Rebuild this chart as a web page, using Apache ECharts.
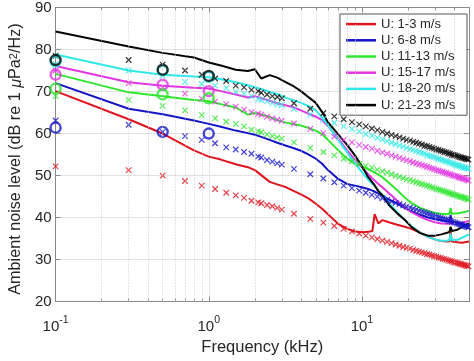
<!DOCTYPE html>
<html><head><meta charset="utf-8">
<script src="https://cdn.jsdelivr.net/npm/echarts@6/dist/echarts.min.js"></script>
<style>html,body{margin:0;padding:0;background:#fff}#c{width:474px;height:361px}</style>
</head><body><div id="c"></div>
<script>
const seriesNames = ['U: 1-3 m/s', 'U: 6-8 m/s', 'U: 11-13 m/s', 'U: 15-17 m/s', 'U: 18-20 m/s', 'U: 21-23 m/s'];
const colors = ['#e0141e', '#1515c8', '#2ee62e', '#e236e2', '#2fe8e8', '#050505'];

// measured spectra (solid lines)
const lineFreqs = [0.1, 0.3, 0.5, 0.8, 1, 1.2, 1.5, 1.8, 2, 2.2, 2.5, 2.8, 3.2, 3.6, 4, 4.5, 5, 5.5, 6, 7, 8, 9, 10, 11, 11.7, 12.1, 12.8, 13.6, 15, 17, 19, 21, 24, 27, 30, 33, 36, 37.3, 37.9, 38.6, 42, 45, 50];
const lineRed = [70.1, 63.4, 60.0, 56.0, 54.5, 53.8, 52.7, 52.0, 51.3, 50.1, 48.5, 47.9, 47.2, 46.3, 45.5, 44.5, 43.3, 42.1, 40.8, 38.5, 37.3, 36.7, 36.5, 36.6, 36.8, 40.8, 38.6, 39.4, 38.9, 38.3, 37.8, 37.3, 36.4, 35.4, 34.8, 34.4, 34.3, 34.3, 36.8, 34.3, 34.1, 34.0, 34.3];
const lineBlue = [72.0, 65.9, 64.6, 63.1, 62.3, 61.6, 60.7, 60.1, 59.7, 59.2, 58.5, 57.8, 57.1, 56.5, 55.9, 55.0, 54.0, 52.8, 51.3, 49.2, 48.0, 47.6, 47.2, 46.8, 46.4, 46.2, 45.7, 45.2, 44.3, 43.3, 42.3, 41.5, 40.6, 40.0, 39.6, 39.3, 39.1, 39.1, 40.6, 39.1, 38.8, 38.5, 38.0];
const lineGreen = [74.2, 69.8, 68.9, 68.0, 67.7, 67.0, 66.2, 64.5, 64.9, 64.5, 63.9, 63.2, 62.6, 62.2, 61.9, 61.3, 60.7, 59.8, 58.5, 56.0, 54.0, 52.8, 52.2, 51.5, 51.0, 50.7, 50.2, 49.6, 48.3, 46.5, 44.8, 43.5, 42.3, 41.6, 41.1, 40.9, 40.8, 40.9, 42.3, 40.9, 41.0, 41.2, 41.6];
const lineMagenta = [76.1, 72.2, 71.4, 70.9, 70.7, 70.1, 69.3, 68.6, 68.9, 68.4, 67.8, 67.2, 66.7, 66.2, 65.5, 64.7, 64.0, 63.2, 61.8, 58.8, 56.0, 53.8, 52.0, 50.3, 49.3, 48.8, 48.0, 47.2, 45.8, 44.0, 42.5, 41.3, 40.2, 39.4, 38.9, 38.6, 38.5, 38.5, 39.7, 38.5, 38.6, 38.8, 39.2];
const lineCyan = [78.8, 75.0, 74.0, 73.6, 73.4, 72.9, 72.2, 71.5, 71.0, 70.6, 69.9, 69.4, 68.5, 67.9, 67.3, 66.5, 65.5, 63.8, 62.0, 58.5, 55.5, 52.9, 50.8, 49.0, 48.0, 47.5, 46.4, 45.4, 43.5, 41.3, 39.5, 38.0, 36.4, 35.4, 34.8, 34.5, 34.5, 34.6, 36.2, 34.6, 34.7, 35.2, 36.0];
const lineBlack = [84.3, 80.7, 79.2, 78.1, 76.9, 76.2, 75.2, 74.9, 75.3, 73.1, 73.9, 73.3, 72.2, 71.2, 70.1, 68.6, 67.3, 65.1, 62.7, 59.8, 57.3, 54.8, 52.2, 49.6, 48.4, 47.7, 46.3, 45.3, 43.0, 41.0, 39.5, 37.8, 36.3, 35.7, 35.7, 36.0, 36.4, 36.6, 37.8, 36.8, 37.1, 37.8, 38.6];

// model values (crosses)
const crossFreqs = [0.1, 0.3, 0.5, 0.7, 0.9, 1.1, 1.3, 1.5, 1.7, 1.9, 2.1, 2.2, 2.4, 2.6, 2.8, 3.0, 3.6, 4.6, 5.6, 6.6, 7.6, 8.6, 9.6, 10.6, 11.6, 12.6, 13.6, 14.6, 15.6, 16.6, 17.6, 18.6, 19.6, 20.6, 21.6, 22.6, 23.6, 24.6, 25.6, 26.6, 27.6, 28.6, 29.6, 30.6, 31.6, 32.6, 33.6, 34.6, 35.6, 36.6, 37.6, 38.6, 39.6, 40.6, 41.6, 42.6, 43.6, 44.6, 45.6, 46.6, 47.6, 48.6, 49.6];
const crossRed = [52.2, 51.3, 50.0, 48.7, 47.6, 46.8, 45.9, 45.3, 44.7, 44.0, 43.6, 43.4, 43.0, 42.7, 42.3, 41.9, 40.9, 39.7, 38.8, 38.0, 37.3, 36.7, 36.2, 35.7, 35.3, 34.9, 34.5, 34.2, 33.9, 33.6, 33.3, 33.0, 32.8, 32.6, 32.3, 32.1, 31.9, 31.7, 31.5, 31.3, 31.2, 31.0, 30.8, 30.7, 30.5, 30.4, 30.2, 30.1, 30.0, 29.8, 29.7, 29.6, 29.4, 29.3, 29.2, 29.1, 29.0, 28.9, 28.8, 28.7, 28.6, 28.5, 28.4];
const crossBlue = [63.1, 62.1, 60.4, 59.4, 58.5, 57.7, 56.7, 56.2, 55.6, 55.2, 54.5, 54.3, 53.7, 53.3, 52.9, 52.6, 51.6, 50.3, 49.3, 48.4, 47.6, 47.0, 46.4, 45.9, 45.4, 45.0, 44.6, 44.2, 43.8, 43.5, 43.2, 42.9, 42.6, 42.4, 42.1, 41.9, 41.6, 41.4, 41.2, 41.0, 40.8, 40.6, 40.4, 40.3, 40.1, 39.9, 39.8, 39.6, 39.5, 39.3, 39.2, 39.0, 38.9, 38.8, 38.6, 38.5, 38.4, 38.3, 38.1, 38.0, 37.9, 37.8, 37.7];
const crossGreen = [68.9, 68.0, 66.6, 65.5, 64.4, 63.6, 62.8, 62.3, 61.7, 60.9, 60.5, 60.3, 59.8, 59.4, 59.1, 58.8, 57.9, 56.6, 55.6, 54.8, 54.0, 53.4, 52.8, 52.3, 51.9, 51.4, 51.0, 50.7, 50.3, 50.0, 49.7, 49.4, 49.1, 48.9, 48.6, 48.4, 48.2, 48.0, 47.8, 47.6, 47.4, 47.2, 47.0, 46.8, 46.7, 46.5, 46.4, 46.2, 46.1, 45.9, 45.8, 45.6, 45.5, 45.4, 45.3, 45.1, 45.0, 44.9, 44.8, 44.7, 44.6, 44.4, 44.3];
const crossMagenta = [75.0, 72.0, 71.0, 69.5, 68.3, 67.6, 67.0, 66.4, 65.7, 65.1, 64.7, 64.5, 64.0, 63.6, 63.3, 63.0, 62.4, 61.1, 60.1, 59.3, 58.5, 57.9, 57.3, 56.8, 56.4, 55.9, 55.5, 55.2, 54.8, 54.5, 54.2, 53.9, 53.6, 53.4, 53.1, 52.9, 52.7, 52.5, 52.3, 52.1, 51.9, 51.7, 51.5, 51.3, 51.2, 51.0, 50.9, 50.7, 50.6, 50.4, 50.3, 50.1, 50.0, 49.9, 49.8, 49.6, 49.5, 49.4, 49.3, 49.2, 49.1, 48.9, 48.8];
const crossCyan = [76.5, 75.0, 73.8, 72.3, 71.8, 71.4, 70.8, 69.9, 69.5, 68.9, 68.2, 68.0, 67.7, 67.3, 67.0, 66.8, 65.8, 64.5, 63.4, 62.5, 61.7, 61.1, 60.5, 59.9, 59.5, 59.0, 58.6, 58.2, 57.8, 57.5, 57.2, 56.9, 56.6, 56.3, 56.1, 55.8, 55.6, 55.4, 55.2, 54.9, 54.7, 54.6, 54.4, 54.2, 54.0, 53.8, 53.7, 53.5, 53.4, 53.2, 53.1, 52.9, 52.8, 52.6, 52.5, 52.4, 52.3, 52.1, 52.0, 51.9, 51.8, 51.7, 51.6];
const crossBlack = [78.5, 77.5, 76.4, 75.0, 74.0, 73.1, 72.5, 71.4, 71.0, 70.4, 70.1, 69.7, 69.3, 68.9, 68.7, 68.4, 67.2, 65.9, 64.9, 64.1, 63.4, 62.7, 62.2, 61.7, 61.2, 60.8, 60.4, 60.0, 59.7, 59.4, 59.1, 58.8, 58.5, 58.3, 58.0, 57.8, 57.6, 57.4, 57.1, 57.0, 56.8, 56.6, 56.4, 56.2, 56.1, 55.9, 55.8, 55.6, 55.5, 55.3, 55.2, 55.0, 54.9, 54.8, 54.7, 54.5, 54.4, 54.3, 54.2, 54.1, 54.0, 53.9, 53.8];

// circles
const circleFreqs = [0.1, 0.5, 1];
const circleBlue = [61.4, 60.4, 60.0];
const circleGreen = [70.7, 69.3, 68.4];
const circleMagenta = [74.0, 71.6, 70.1];
const circleCyan = [77.2, 75.0, 73.5];
const circleBlack = [77.5, 75.2, 73.7];

const xMajorTicks = [0.1, 1, 10];
const xMinorTicks = [0.2, 0.3, 0.4, 0.5, 0.6, 0.7, 0.8, 0.9, 2, 3, 4, 5, 6, 7, 8, 9, 20, 30, 40];

const FONT = '"Liberation Sans", Arial, Helvetica, sans-serif';
const TXT = '#262626';
const AX = '#8a8a8a';

const lineVals = [lineRed, lineBlue, lineGreen, lineMagenta, lineCyan, lineBlack];
const crossVals = [crossRed, crossBlue, crossGreen, crossMagenta, crossCyan, crossBlack];
const circleSets = [[circleCyan, 4], [circleBlack, 5], [circleMagenta, 3], [circleGreen, 2], [circleBlue, 1]];

const zip = (xs, ys) => xs.map((x, i) => [x, ys[i]]);

const series = [];
series.push({
  type: 'line', name: 'grid', data: [], xAxisIndex: 0, yAxisIndex: 0, z: 1, silent: true,
  markLine: {
    silent: true, symbol: ['none', 'none'], label: {show: false},
    lineStyle: {type: [1, 2], color: '#c8c8c8', width: 1},
    data: xMinorTicks.map(v => ({xAxis: v}))
  }
});
lineVals.forEach((vals, k) => {
  series.push({
    type: 'line', name: seriesNames[k], data: zip(lineFreqs, vals), symbol: 'none', z: 2,
    lineStyle: {color: colors[k], width: 2}, itemStyle: {color: colors[k]}
  });
});
crossVals.forEach((vals, k) => {
  series.push({
    type: 'scatter', name: 'x' + k, data: zip(crossFreqs, vals), z: 3,
    symbol: 'path://M0,0L10,10M10,0L0,10', symbolSize: 5.5,
    itemStyle: {color: 'rgba(0,0,0,0)', borderColor: colors[k], borderWidth: 1.2}
  });
});
circleSets.forEach(([vals, k]) => {
  series.push({
    type: 'scatter', name: 'o' + k, data: zip(circleFreqs, vals), z: 4,
    symbol: 'circle', symbolSize: 10,
    itemStyle: {color: 'rgba(0,0,0,0)', borderColor: colors[k], borderWidth: 2.4}
  });
});

const logAxisBase = {type: 'log', logBase: 10, min: 0.1, max: 50};
const option = {
  animation: false,
  backgroundColor: '#fff',
  textStyle: {fontFamily: FONT},
  grid: {left: 48, top: 6, right: 5, bottom: 48, containLabel: false},
  legend: {
    orient: 'vertical', left: 340, top: 14,
    data: seriesNames,
    icon: 'rect',
    padding: [2, 6, 2, 6], itemGap: 0, itemWidth: 30, itemHeight: 2.5,
    backgroundColor: '#fff', borderColor: '#555', borderWidth: 1,
    textStyle: {fontSize: 13, color: TXT, fontFamily: FONT, width: 80, lineHeight: 16.2},
    selectedMode: false
  },
  xAxis: [
    Object.assign({}, logAxisBase, {
      position: 'bottom',
      name: 'Frequency (kHz)', nameLocation: 'middle', nameGap: 37,
      nameTextStyle: {fontSize: 16.5, color: TXT, fontFamily: FONT},
      axisLine: {show: true, onZero: false, lineStyle: {color: AX, width: 1}},
      axisTick: {show: true, inside: true, length: 5, lineStyle: {color: AX}},
      axisLabel: {
        show: true, customValues: xMajorTicks, margin: 13,
        formatter: v => '{b|10}{s|' + Math.round(Math.log10(v)) + '}',
        rich: {
          b: {fontSize: 15, color: TXT, fontFamily: FONT, lineHeight: 16, padding: [8, 0, 0, 0]},
          s: {fontSize: 10.5, color: TXT, fontFamily: FONT, lineHeight: 12, verticalAlign: 'top'}
        }
      },
      splitLine: {show: true, lineStyle: {color: '#e2e2e2', width: 1}}
    }),
    Object.assign({}, logAxisBase, {
      position: 'top',
      axisLine: {show: true, onZero: false, lineStyle: {color: AX, width: 1}},
      axisTick: {show: true, inside: true, length: 5, lineStyle: {color: AX}},
      axisLabel: {show: false}, splitLine: {show: false}
    }),
    Object.assign({}, logAxisBase, {
      position: 'bottom',
      axisLine: {show: false},
      axisTick: {show: true, inside: true, length: 3, customValues: xMinorTicks, lineStyle: {color: AX}},
      axisLabel: {show: false}, splitLine: {show: false}
    }),
    Object.assign({}, logAxisBase, {
      position: 'top',
      axisLine: {show: false},
      axisTick: {show: true, inside: true, length: 3, customValues: xMinorTicks, lineStyle: {color: AX}},
      axisLabel: {show: false}, splitLine: {show: false}
    })
  ],
  yAxis: [
    {
      type: 'value', min: 20, max: 90, interval: 10, position: 'left',
      name: 'Ambient noise level (dB re 1 {i|μ}Pa{sup|2}/Hz)', nameLocation: 'middle', nameGap: 27,
      nameTextStyle: {
        fontSize: 16.2, color: TXT, fontFamily: FONT, padding: [0, 9, 0, 0],
        rich: {
          i: {fontSize: 16.2, fontStyle: 'italic', color: TXT, fontFamily: FONT},
          sup: {fontSize: 11, color: TXT, fontFamily: FONT, verticalAlign: 'top', lineHeight: 12}
        }
      },
      axisLine: {show: true, onZero: false, lineStyle: {color: AX, width: 1}},
      axisTick: {show: true, inside: true, length: 5, lineStyle: {color: AX}},
      axisLabel: {fontSize: 15, color: TXT, fontFamily: FONT, margin: 4},
      splitLine: {show: true, lineStyle: {color: '#e2e2e2', width: 1}}
    },
    {
      type: 'value', min: 20, max: 90, interval: 10, position: 'right',
      axisLine: {show: true, onZero: false, lineStyle: {color: AX, width: 1}},
      axisTick: {show: true, inside: true, length: 5, lineStyle: {color: AX}},
      axisLabel: {show: false}, splitLine: {show: false}
    }
  ],
  series: series
};
const chart = echarts.init(document.getElementById('c'), null, {renderer: 'canvas'});
chart.setOption(option);
</script>
</body></html>
